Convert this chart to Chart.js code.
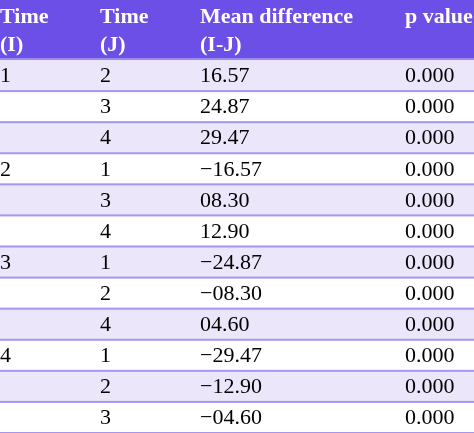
<!DOCTYPE html>
<html><head><meta charset="utf-8">
<script src="https://cdn.jsdelivr.net/npm/chart.js@4"></script>
<style>html,body{margin:0;padding:0;background:#fff}#w{width:474px;height:433px}</style>
</head><body><div id="w"><canvas id="c"></canvas></div>
<script>
const headers = [["Time","(I)"],["Time","(J)"],["Mean difference","(I-J)"],["p value",""]];
const timeI = ["1","","","2","","","3","","","4","",""];
const timeJ = ["2","3","4","1","3","4","1","2","4","1","2","3"];
const meanDiff = ["16.57","24.87","29.47","\u221216.57","08.30","12.90","\u221224.87","\u221208.30","04.60","\u221229.47","\u221212.90","\u221204.60"];
const pValue = ["0.000","0.000","0.000","0.000","0.000","0.000","0.000","0.000","0.000","0.000","0.000","0.000"];
const rows = timeJ.map((_, i) => String(i));
const colX = [0, 100, 200, 405];
const tablePlugin = {
  id: 'tbl',
  beforeDatasetsDraw(ch) {
    const c = ch.ctx;
    c.save();
    c.fillStyle = '#6b4fe6';
    c.fillRect(0, 0, ch.width, ch.chartArea.top - 2);
    c.fillStyle = '#9b8aee';
    c.fillRect(0, ch.chartArea.top - 2, ch.width, 2);
    c.restore();
  },
  afterDatasetsDraw(ch) {
    const c = ch.ctx, y = ch.scales.y;
    c.save();
    c.font = 'bold 22px "Liberation Serif", serif';
    c.fillStyle = '#fff';
    c.textBaseline = 'middle';
    headers.forEach((h, j) => { c.fillText(h[0], colX[j], 17); c.fillText(h[1], colX[j], 45); });
    c.font = '22px "Liberation Serif", serif';
    const step = y.getPixelForValue(1) - y.getPixelForValue(0);
    rows.forEach((r, i) => {
      const py = y.getPixelForValue(i);
      c.fillStyle = '#000';
      [timeI[i], timeJ[i], meanDiff[i], pValue[i]].forEach((t, j) => c.fillText(t, colX[j], py + 1));
      c.fillStyle = '#a696f0';
      c.fillRect(0, py + step / 2 - 1, ch.width, 2);
    });
    c.restore();
  }
};
new Chart(document.getElementById('c'), {
  type: 'bar',
  data: { labels: rows, datasets: [{ data: rows.map(() => 1), backgroundColor: rows.map((_, i) => i % 2 === 0 ? '#ebe6fa' : '#ffffff'), barPercentage: 1, categoryPercentage: 1, borderWidth: 0 }] },
  options: {
    indexAxis: 'y', responsive: true, maintainAspectRatio: false, animation: false,
    layout: { padding: { top: 60, left: 0, right: 0, bottom: 0 } },
    plugins: { legend: { display: false }, tooltip: { enabled: false } },
    scales: {
      x: { display: false, min: 0, max: 1 },
      y: { display: false, offset: true, grid: { display: false } }
    }
  },
  plugins: [tablePlugin]
});
</script></body></html>
